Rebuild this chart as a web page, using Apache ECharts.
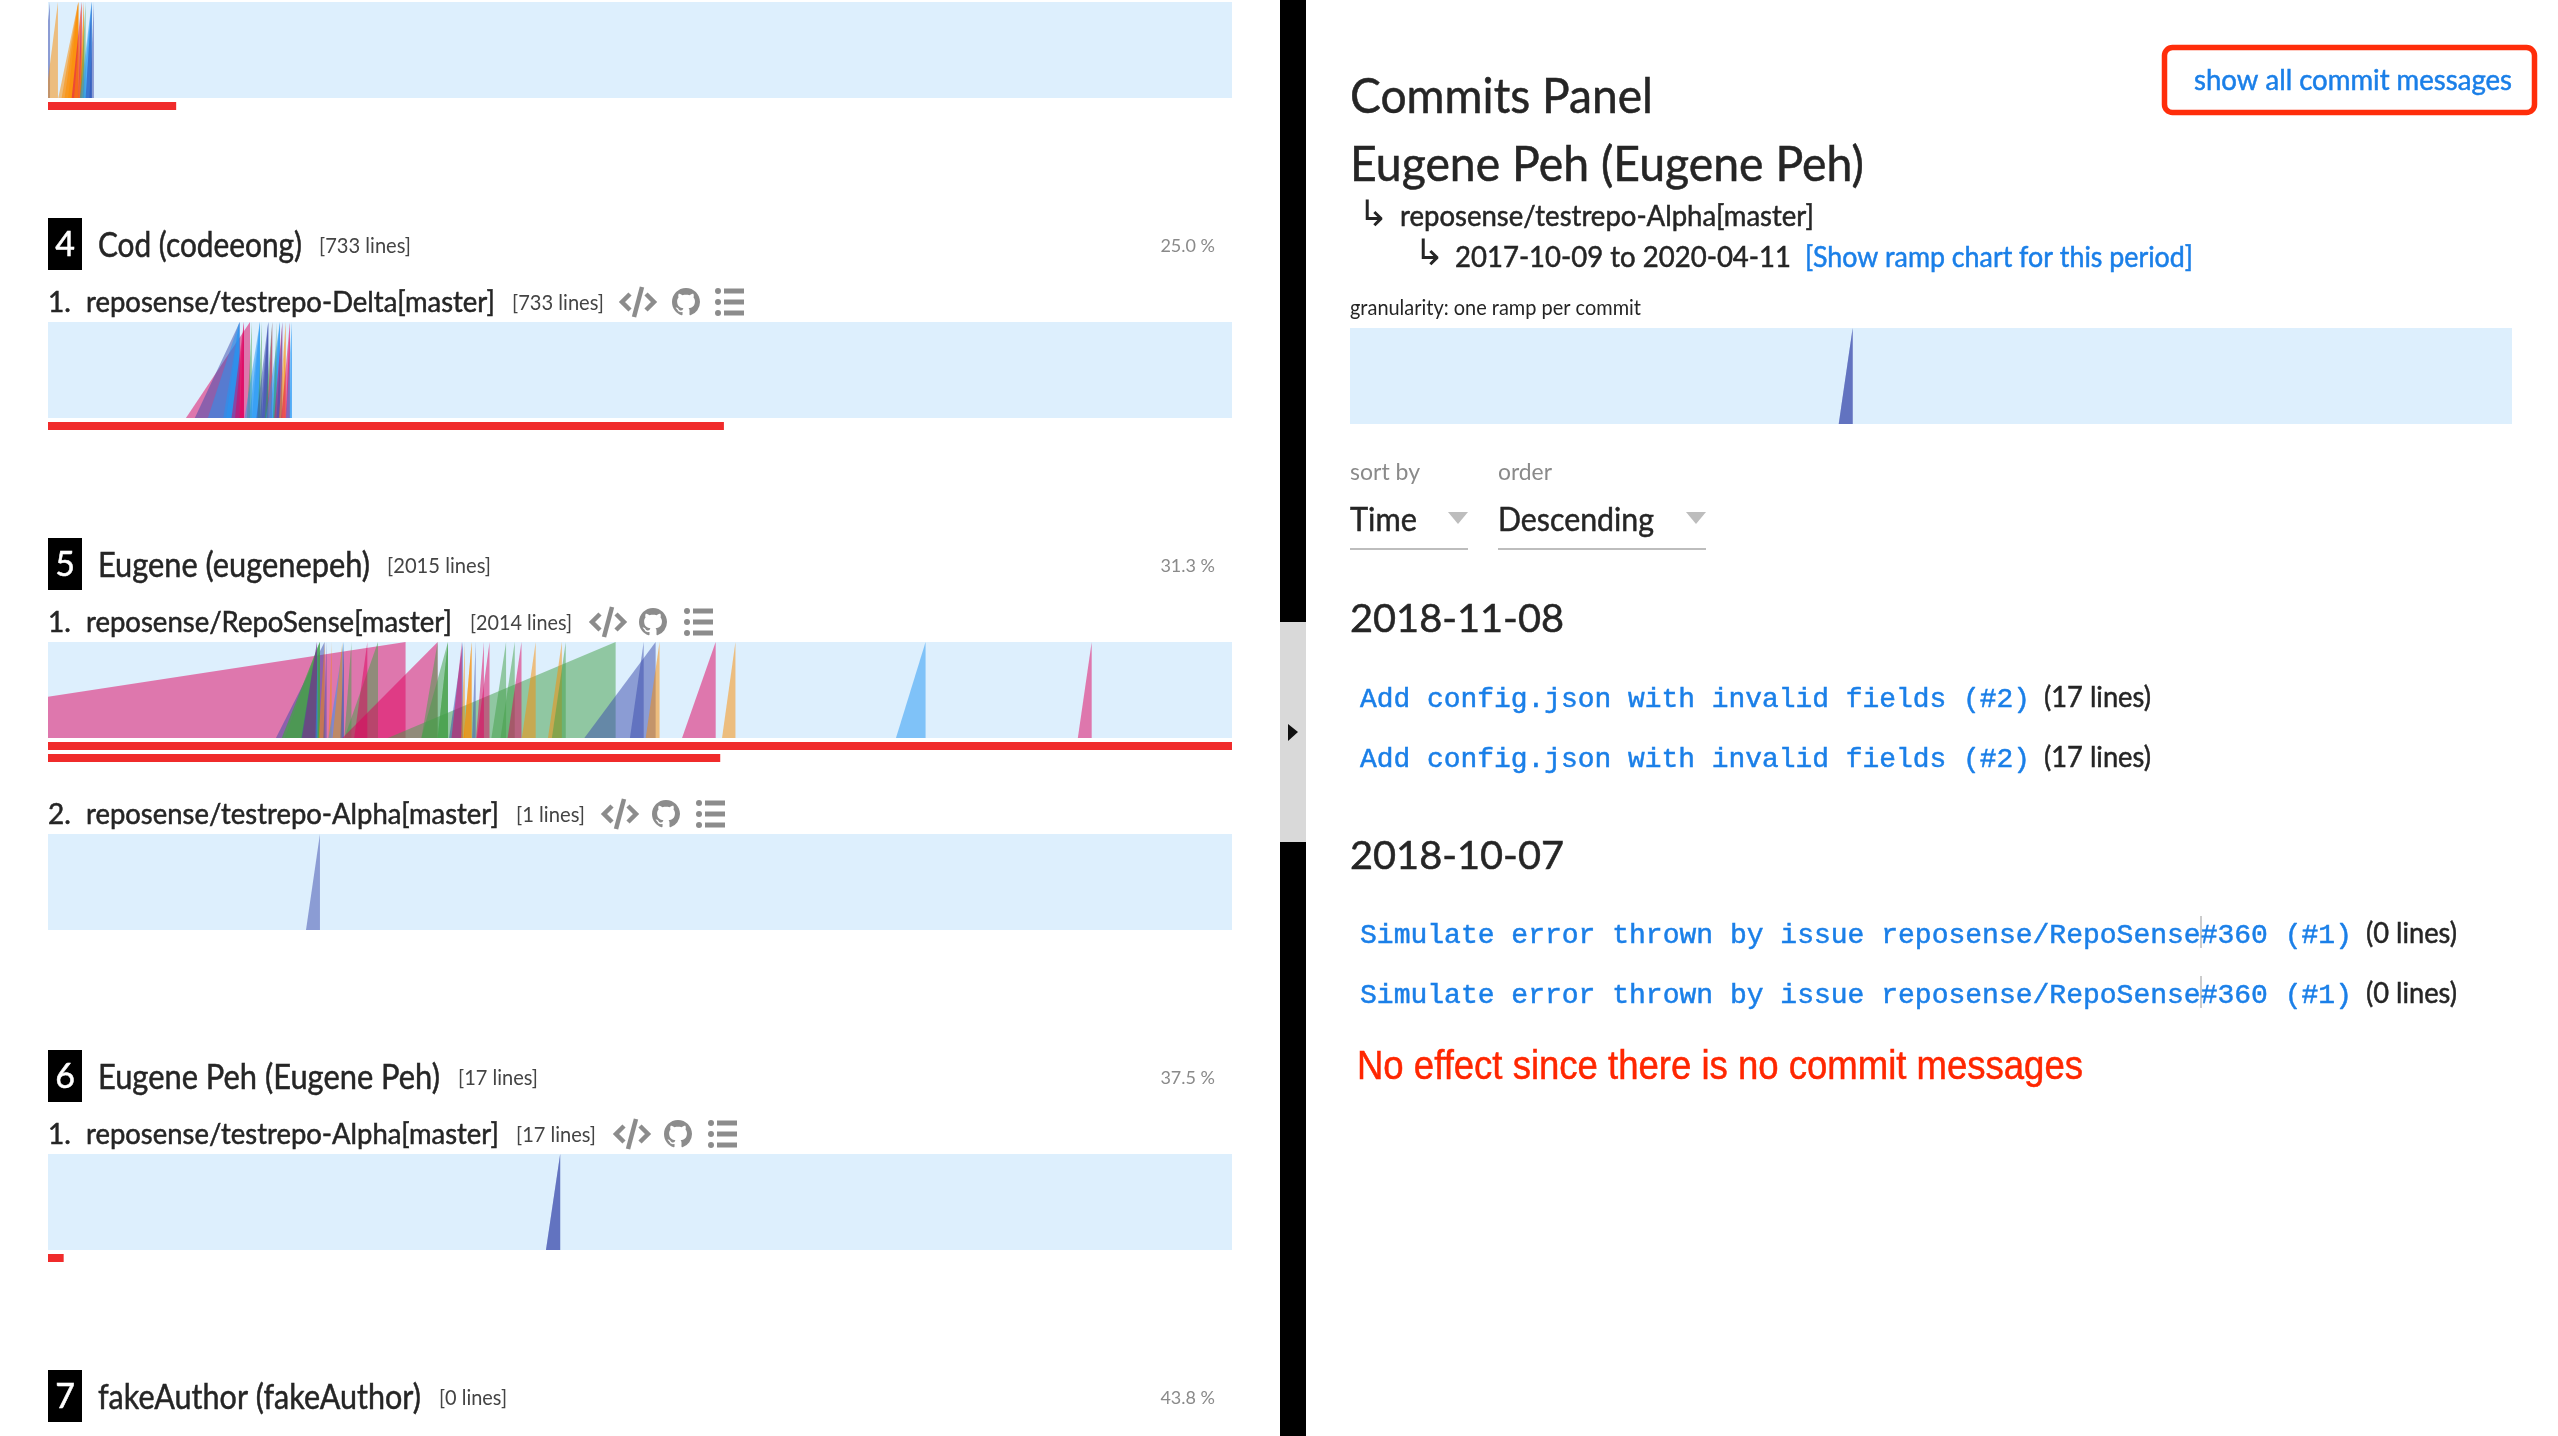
<!DOCTYPE html>
<html>
<head>
<meta charset="utf-8">
<title>Commits Panel</title>
<script src="https://cdn.jsdelivr.net/npm/echarts@6/dist/echarts.min.js"></script>
<style>
  html, body { margin: 0; padding: 0; background: #fff; overflow: hidden; }
  #main { width: 2558px; height: 1436px; }
</style>
</head>
<body>
<div id="main"></div>
<script>
// ramp = [start, end, colour], start and end in 1/1000 of the period
var P = 0, G = 1, I = 2, O = 3, B = 4;
var rampColors = ['#e0005e', '#43a047', '#3949ab', '#fb8c00', '#2196f3'];

var topRamps = [
  [-7, 1.7, I], [-2, 8.4, O], [8.7, 25.6, O], [11.5, 25.6, O], [14, 25.6, O], [17, 25.6, O], [20, 28.4, P],
  [22, 28.4, O], [25.6, 28.4, P], [25.6, 30.4, O], [27, 30.4, O], [27, 31.8, G], [27, 36.9, B], [29, 36.9, B],
  [31.8, 36.9, B], [31.8, 36.9, I], [35, 38.8, I]
];
var codRamps = [
  [116.5, 170.6, P], [124, 162, I], [135, 161.6, B], [148, 161.6, B], [150.3, 161.6, B], [155, 165.5, P],
  [158, 165.5, P], [162, 165.5, P], [168, 172.2, G], [166, 179, B], [170, 179, B], [172.2, 179, B], [177, 180.7, G],
  [176, 186, I], [179, 186, I], [180.7, 186, I], [183, 189.4, G], [185, 189.4, P], [184, 195.9, B], [187, 195.9, B],
  [189.4, 195.9, B], [190, 193, G], [191, 197.9, P], [193, 197.9, I], [195, 200.7, O], [197.9, 200.7, O],
  [197, 204.3, P], [200.7, 204.3, P], [201, 206, B], [204, 206, B]
];
var eugeneRepoRamps = [
  [-228, 302, P], [192.5, 233.6, I], [197.5, 229.6, G], [197.5, 229.6, G], [200, 229.6, G], [214.6, 227.2, P],
  [214, 227.2, I], [225.9, 227.9, B], [228.6, 233.6, O], [232.6, 235.3, I], [236.9, 239.6, O], [236.9, 249.6, B],
  [240.3, 248.6, O], [247, 250, I], [250.3, 256.3, G], [250.3, 278.7, G], [258.6, 269.7, P], [248.6, 329.1, P],
  [287, 479.4, G], [315.4, 329.1, G], [315.4, 337.8, G], [329.1, 337.8, G], [329.1, 337.8, G], [338.8, 350.5, I],
  [340.8, 349.5, P], [348.8, 352.1, O], [351.1, 357.8, O], [351.1, 357.8, O], [358.2, 361.2, I], [361.5, 368.2, P],
  [362.2, 372.9, P], [374.5, 386.9, G], [382.2, 394.2, G], [388.2, 399.9, P], [400.2, 411.9, O], [422.3, 434, O],
  [425.6, 437.3, G], [453, 513.2, I], [491.5, 503.1, I], [504.8, 516.5, O], [535.5, 563.9, P], [569.3, 580.6, O],
  [716.2, 741.2, B], [869.8, 881.5, P]
];
var eugeneAlphaRamps = [[217.9, 229.7, I]];
var pehRamps = [[420.6, 432.6, I], [420.6, 432.6, I]];

// contribution bars, in lines (a full row holds 1284)
var fullRow = 1284;
var topBar = [139];
var codBar = [733];
var eugeneBar1 = [1284];
var eugeneBar2 = [729];
var pehBar = [17];

var titleFont = 'Lato, "Open Sans", sans-serif';
var monoFont = '"Liberation Mono", monospace';
var arrowFont = '"DejaVu Sans"';
var blue = '#1a7fe8';
var dark = '#252525';

var ctx = document.createElement('canvas').getContext('2d');

// text squeezed to the width it has in the page
function label(text, x, y, size, color, width, font, align) {
  var f = size + 'px ' + (font || titleFont);
  var sx = 1;
  if (width) {
    ctx.font = f;
    sx = width / ctx.measureText(text).width;
  }
  var style = { text: text, font: f, fill: color, textAlign: align || 'left', textVerticalAlign: 'middle' };
  if (size >= 28 && font !== arrowFont) {
    // the page font is a little heavier than Lato
    style.stroke = color;
    style.lineWidth = 0.5;
  }
  return { type: 'text', x: x, y: y + 2, scaleX: sx, z: 10, style: style };
}

var githubPath = 'M8 0C3.58 0 0 3.58 0 8c0 3.54 2.29 6.53 5.47 7.59.4.07.55-.17.55-.38 0-.19-.01-.82-.01-1.49-2.01.37-2.53-.49-2.69-.94-.09-.23-.48-.94-.82-1.13-.28-.15-.68-.52-.01-.53.63-.01 1.08.58 1.23.82.72 1.21 1.87.87 2.33.66.07-.52.28-.87.51-1.07-1.78-.2-3.64-.89-3.64-3.95 0-.87.31-1.59.82-2.15-.08-.2-.36-1.02.08-2.12 0 0 .67-.21 2.2.82.64-.18 1.32-.27 2-.27.68 0 1.36.09 2 .27 1.53-1.04 2.2-.82 2.2-.82.44 1.1.16 1.92.08 2.12.51.56.82 1.27.82 2.15 0 3.07-1.87 3.75-3.65 3.95.29.25.54.73.54 1.48 0 1.07-.01 1.93-.01 2.2 0 .21.15.46.55.38A8.013 8.013 0 0 0 16 8c0-4.42-3.58-8-8-8z';
echarts.graphic.registerShape('githubMark', echarts.graphic.extendPath(githubPath, {}));

function line(points, color, w) {
  return { type: 'polyline', z: 10, shape: { points: points }, style: { stroke: color, lineWidth: w, fill: null } };
}

// the three grey icons of a repo row
function icons(cx, gx, lx, y) {
  var g = '#8c8c8c';
  var out = [
    line([[cx + 10, y - 8], [cx + 2, y], [cx + 10, y + 8]], g, 4.5),
    line([[cx + 22, y - 15], [cx + 14, y + 15]], g, 4.5),
    line([[cx + 26, y - 8], [cx + 34, y], [cx + 26, y + 8]], g, 4.5),
    { type: 'githubMark', z: 10, x: gx, y: y - 14, scaleX: 1.75, scaleY: 1.75, style: { fill: g } }
  ];
  [-11, 0, 11].forEach(function (d) {
    out.push({ type: 'circle', z: 10, shape: { cx: lx + 3, cy: y + d, r: 3 }, style: { fill: g } });
    out.push({ type: 'rect', z: 10, shape: { x: lx + 9, y: y + d - 2.5, width: 20, height: 5 }, style: { fill: g } });
  });
  return out;
}

function authorHeader(n, name, nameEnd, lines, linesX, linesEnd, pct, top) {
  var y = top + 26;
  return [
    { type: 'rect', z: 9, shape: { x: 48, y: top, width: 34, height: 52 }, style: { fill: '#000' } },
    label(n, 65, y - 1, 34, '#fff', 0, titleFont, 'center'),
    label(name, 98, y, 34, dark, nameEnd - 98),
    label(lines, linesX, y, 22, '#444', linesEnd - linesX),
    label(pct, 1215, y, 18, '#8a8a8a', 0, titleFont, 'right')
  ];
}

function repoRow(n, name, nameEnd, lines, linesX, linesEnd, cx, gx, lx, y) {
  return [
    label(n, 48, y, 28, dark),
    label(name, 86, y, 28, dark, nameEnd - 86),
    label(lines, linesX, y, 22, '#444', linesEnd - linesX)
  ].concat(icons(cx, gx, lx, y + 1));
}

var grids = [], xAxes = [], yAxes = [], series = [];

function addRamps(x, top, w, h, ramps) {
  var i = grids.length;
  grids.push({
    left: x, top: top, width: w, height: h, show: true, borderWidth: 0, backgroundColor: '#ddeffd'
  });
  xAxes.push({ type: 'value', gridIndex: i, min: 0, max: 1000, show: false });
  yAxes.push({ type: 'value', gridIndex: i, min: 0, max: 1, show: false });
  series.push({
    type: 'custom', xAxisIndex: i, yAxisIndex: i, clip: true, silent: true, animation: false,
    encode: { x: [0, 1] },
    data: ramps,
    renderItem: function (params, api) {
      var a = api.coord([api.value(0), 0]);
      var b = api.coord([api.value(1), 1]);
      var c = api.coord([api.value(1), 0]);
      return {
        type: 'polygon',
        shape: { points: [a, b, c] },
        style: { fill: rampColors[api.value(2)], opacity: 0.5 }
      };
    }
  });
}

function addBar(top, values) {
  var i = grids.length;
  grids.push({ left: 48, top: top, width: 1184, height: 8 });
  xAxes.push({ type: 'value', gridIndex: i, min: 0, max: fullRow, show: false });
  yAxes.push({ type: 'category', gridIndex: i, data: ['lines'], show: false });
  series.push({
    type: 'bar', xAxisIndex: i, yAxisIndex: i, data: values, barWidth: 9, silent: true, animation: false,
    itemStyle: { color: '#f02b2b' }
  });
}

addRamps(48, 2, 1184, 96, topRamps);
addBar(102, topBar);
addRamps(48, 322, 1184, 96, codRamps);
addBar(422, codBar);
addRamps(48, 642, 1184, 96, eugeneRepoRamps);
addBar(742, eugeneBar1);
addBar(754, eugeneBar2);
addRamps(48, 834, 1184, 96, eugeneAlphaRamps);
addRamps(48, 1154, 1184, 96, pehRamps);
addBar(1254, pehBar);
addRamps(1350, 328, 1162, 96, pehRamps);

var left = [].concat(
  authorHeader('4', 'Cod (codeeong)', 302, '[733 lines]', 319, 411, '25.0 %', 218),
  repoRow('1.', 'reposense/testrepo-Delta[master]', 495, '[733 lines]', 512, 604, 620, 672, 715, 301),
  authorHeader('5', 'Eugene (eugenepeh)', 370, '[2015 lines]', 387, 491, '31.3 %', 538),
  repoRow('1.', 'reposense/RepoSense[master]', 452, '[2014 lines]', 470, 572, 590, 639, 684, 621),
  repoRow('2.', 'reposense/testrepo-Alpha[master]', 499, '[1 lines]', 516, 585, 602, 652, 696, 813),
  authorHeader('6', 'Eugene Peh (Eugene Peh)', 440, '[17 lines]', 458, 538, '37.5 %', 1050),
  repoRow('1.', 'reposense/testrepo-Alpha[master]', 499, '[17 lines]', 516, 596, 614, 664, 708, 1133),
  authorHeader('7', 'fakeAuthor (fakeAuthor)', 421, '[0 lines]', 439, 507, '43.8 %', 1370)
);

var divider = [
  { type: 'rect', z: 9, shape: { x: 1280, y: 0, width: 26, height: 1436 }, style: { fill: '#000' } },
  { type: 'rect', z: 9, shape: { x: 1280, y: 622, width: 26, height: 220 }, style: { fill: '#d9d9d9' } },
  { type: 'polygon', z: 10, shape: { points: [[1288, 724], [1298, 732], [1288, 741]] }, style: { fill: '#111' } }
];

var right = [
  label('Commits Panel', 1350, 96, 48, dark, 303),
  label('Eugene Peh (Eugene Peh)', 1350, 164, 48, dark, 514),
  label('\u21b3', 1358, 215, 36, dark, 0, arrowFont),
  label('reposense/testrepo-Alpha[master]', 1400, 215, 28, dark, 414),
  label('\u21b3', 1414, 254, 36, dark, 0, arrowFont),
  label('2017-10-09 to 2020-04-11', 1455, 256, 28, dark, 336),
  label('[Show ramp chart for this period]', 1805, 256, 28, blue, 388),
  label('granularity: one ramp per commit', 1350, 306, 21, dark, 291),
  label('sort by', 1350, 471, 23, '#8a8a8a', 70),
  label('order', 1498, 471, 23, '#8a8a8a', 54),
  label('Time', 1350, 519, 32, dark, 67),
  label('Descending', 1498, 519, 32, dark, 156),
  { type: 'polygon', z: 10, shape: { points: [[1448, 512], [1468, 512], [1458, 524]] }, style: { fill: '#bdbdbd' } },
  { type: 'polygon', z: 10, shape: { points: [[1686, 512], [1706, 512], [1696, 524]] }, style: { fill: '#bdbdbd' } },
  { type: 'rect', z: 10, shape: { x: 1350, y: 548, width: 118, height: 2 }, style: { fill: '#bdbdbd' } },
  { type: 'rect', z: 10, shape: { x: 1498, y: 548, width: 208, height: 2 }, style: { fill: '#bdbdbd' } },

  label('2018-11-08', 1350, 618, 38, dark, 214),
  label('Add config.json with invalid fields (#2)', 1360, 698, 28, blue, 670, monoFont),
  label('(17 lines)', 2044, 696, 28, dark, 107),
  label('Add config.json with invalid fields (#2)', 1360, 758, 28, blue, 670, monoFont),
  label('(17 lines)', 2044, 756, 28, dark, 107),

  label('2018-10-07', 1350, 855, 38, dark, 214),
  label('Simulate error thrown by issue reposense/RepoSense#360 (#1)', 1360, 934, 28, blue, 992, monoFont),
  label('(0 lines)', 2366, 932, 28, dark, 91),
  label('Simulate error thrown by issue reposense/RepoSense#360 (#1)', 1360, 994, 28, blue, 992, monoFont),
  label('(0 lines)', 2366, 992, 28, dark, 91),
  line([[2201, 916], [2201, 948]], '#999', 1),
  line([[2201, 976], [2201, 1008]], '#999', 1),

  label('No effect since there is no commit messages', 1357, 1066, 40, '#ff2600', 726, '"Liberation Sans"'),

  {
    type: 'rect', z: 10,
    shape: { x: 2164.5, y: 47.5, width: 370, height: 65, r: 8 },
    style: { fill: null, stroke: '#ff2d0a', lineWidth: 5.5 }
  },
  label('show all commit messages', 2194, 79, 28, blue, 318)
];

var myChart = echarts.init(document.getElementById('main'), null, { renderer: 'canvas' });
myChart.setOption({
  animation: false,
  backgroundColor: '#fff',
  tooltip: { show: false },
  grid: grids,
  xAxis: xAxes,
  yAxis: yAxes,
  series: series,
  graphic: { elements: left.concat(divider, right) }
});
</script>
</body>
</html>
